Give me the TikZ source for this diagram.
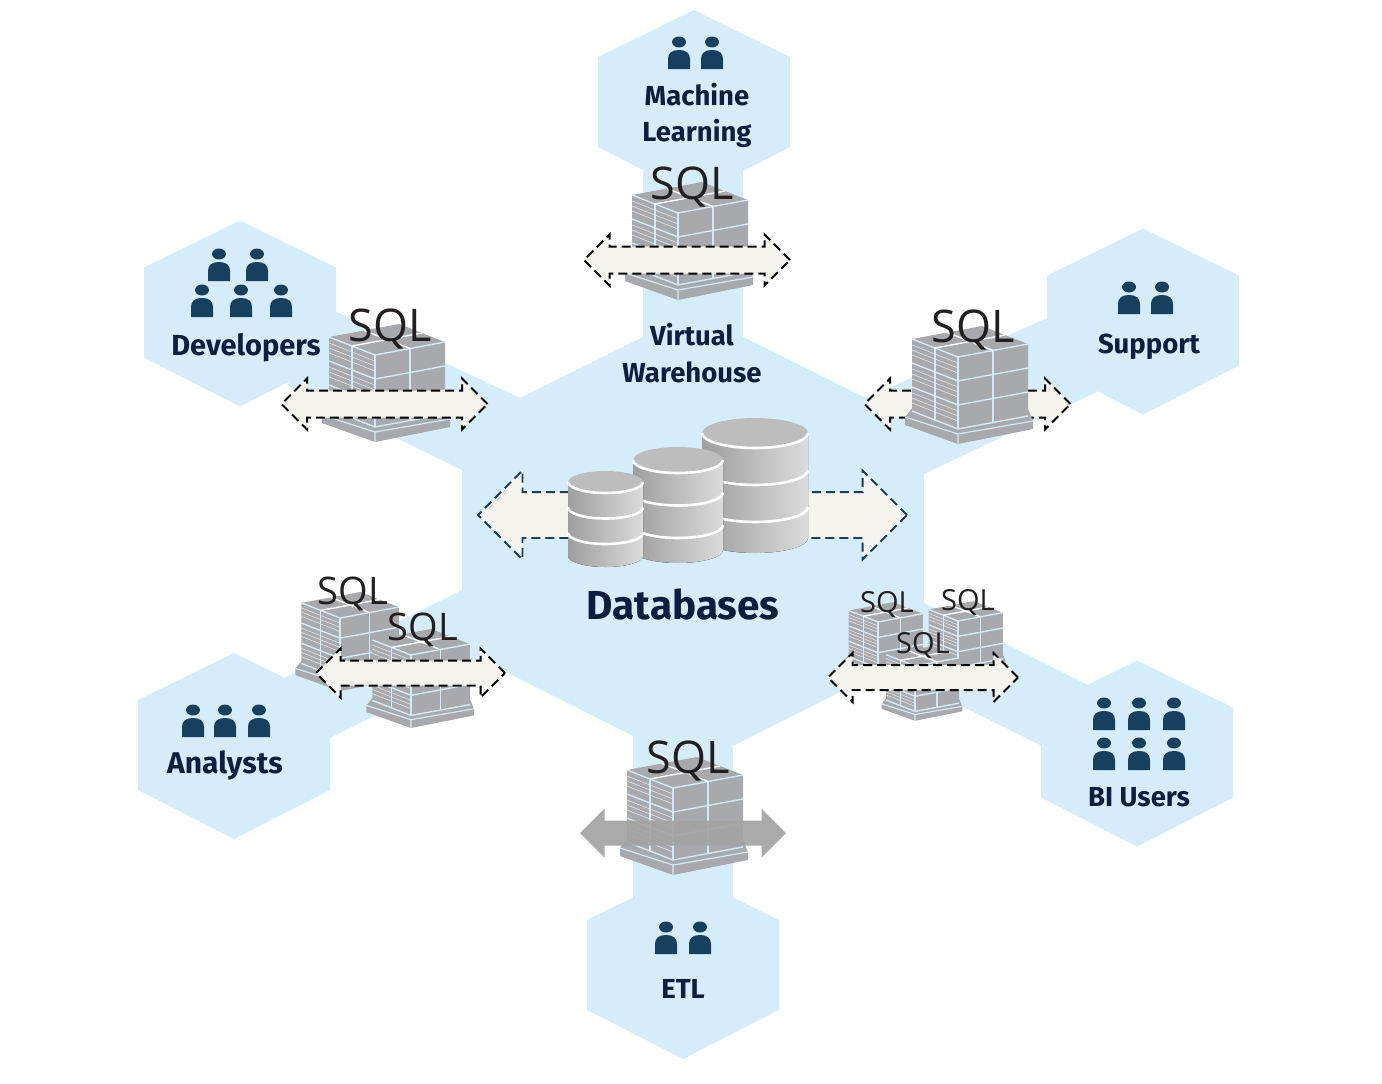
\documentclass[tikz,border=0pt]{standalone}
\usepackage{fontspec}
\setmainfont{Fira Sans}
\newfontfamily\sqlfont{Open Sans}
\usetikzlibrary{positioning}
\usetikzlibrary{shapes.arrows}
\definecolor{hexblue}{HTML}{D5EDFA}
\definecolor{navy}{HTML}{17405F}
\definecolor{inkblue}{HTML}{0B1F3F}
\definecolor{crate}{HTML}{A7A9AC}
\definecolor{crateline}{HTML}{D2EAF7}
\definecolor{sand}{HTML}{F5F3EE}
\definecolor{sqlink}{HTML}{231F20}
\tikzset{
  hexcell/.pic={\fill[hexblue] (0,-93) -- (96,-46) -- (96,44) -- (0,93) -- (-96,44) -- (-96,-46) -- cycle;},
  person/.pic={
    \fill[navy] (0,-27) ellipse[x radius=7,y radius=5.5];
    \fill[navy] (-11,0) -- (-11,-10) .. controls (-11,-16) and (-7,-19) .. (0,-19) .. controls (7,-19) and (11,-16) .. (11,-10) -- (11,0) -- cycle;},
  sqlstack/.pic={
    \fill[crate] (-53,60) -- (-45,50) -- (69,50) -- (75,64) -- (75,72) -- (0,87) -- (-53,68) -- cycle;
    \draw[crateline,line width=1.2pt] (-53,60) -- (0,77) -- (75,64) (0,77) -- (0,87);
    \fill[crate] (-46,-18) -- (24,-31) -- (70,-13) -- (70,59) -- (0,72) -- (-46,54) -- cycle;
    \foreach \t in {0,24,48}{
      \foreach \s in {6,11,16}
        \draw[white,opacity=.7,line width=.6pt] (-46,-18+\t+\s) -- (-23,-9+\t+\s) (-23,-9+\t+\s) -- (0,\t+\s);
      \draw[crateline,line width=1.4pt] (-46,-18+\t) -- (0,\t) -- (70,-13+\t);
    }
    \draw[crateline,line width=1.4pt] (-46,54) -- (0,72) -- (70,59);
    \draw[crateline,line width=1.4pt] (0,0) -- (0,72) (-23,-9) -- (-23,63) (35,-6.5) -- (35,65.5);
    \draw[white,line width=1.4pt] (-23,-9) -- (47,-22) (35,-6.5) -- (-11,-24.5);},
  lbl/.style={font=\bfseries\fontsize{27.5}{28}\selectfont,text=inkblue,inner sep=0pt},
  lblbig/.style={lbl,font=\bfseries\fontsize{29}{29}\selectfont},
  sqltxt/.style={font=\sqlfont\fontsize{45}{45}\selectfont,text=sqlink,inner sep=0pt},
  sqlmid/.style={sqltxt,font=\sqlfont\fontsize{38}{38}\selectfont},
  sqlsmall/.style={sqltxt,font=\sqlfont\fontsize{29}{29}\selectfont},
  flow/.style={double arrow,double arrow tip angle=90,double arrow head extend=12,minimum height=206pt,minimum width=49pt,
    inner xsep=0pt,inner ysep=12.5pt,fill=sand,draw=black,line width=2pt,dash pattern=on 9pt off 5pt},
  etlflow/.style={flow,draw=none,fill=black!36,opacity=.92,inner ysep=11.5pt,minimum width=47pt},
  dbflow/.style={flow,draw=navy,line width=1.8pt,minimum height=429pt,minimum width=87pt,double arrow head extend=21.5,inner ysep=22pt},
}
\newcommand{\dbcyl}[6]{% x, rim y, rx, ry, row height, bottom rim y
  \fill[left color=black!38,right color=black!14] (#1-#3,#2) -- (#1-#3,#6) arc[start angle=180,end angle=0,x radius=#3,y radius=#4] -- (#1+#3,#2) -- cycle;
  \fill[black!26] (#1,#2) ellipse[x radius=#3,y radius=#4];
  \foreach \k in {0,1,2}
    \draw[white,line width=2.6pt] (#1-#3,#2+\k*#5) arc[start angle=180,end angle=0,x radius=#3,y radius=#4];
}
\begin{document}
\begin{tikzpicture}[x=1pt,y=-1pt,on grid]
   \useasboundingbox (0,0) rectangle (1382,1084);
   % blue ground
   \fill[hexblue] (693,312) -- (924,427) -- (924,650) -- (693,766) -- (462,650) -- (462,427) -- cycle;
   \fill[hexblue] (337,312) -- (520,398) -- (600,500) -- (462,470) -- (287,385) -- cycle;
   \fill[hexblue] (1047,318) -- (866,398) -- (800,500) -- (924,474) -- (1097,392) -- (1100,320) -- cycle;
   \fill[hexblue] (462,590) -- (280,680) -- (300,753) -- (484,661) -- (600,600) -- cycle;
   \fill[hexblue] (924,603) -- (1090,686) -- (1041,745.5) -- (887,669) -- (800,600) -- cycle;
   \fill[hexblue] (643,150) rectangle (743,340);
   \fill[hexblue] (633,735) rectangle (733,900);
   \foreach \x/\y in {694/103,240/313.5,1143/321.5,234/746,1137/753.5,683/966}
     \pic at (\x,\y) {hexcell};
   % people
   \foreach \x/\y in {679/69,712/69,219/281,257/281,202/317,241/317,281/317,1129/314,1162/314,
                      193/737,225/737,259/737,1104/730,1139/730,1174/730,1104/770,1139/770,1174/770,666/954,700/954}
     \pic at (\x,\y) {person};
   % texts
   \node[lbl] (l_ml) at (697,95) {Machine};
   \node[lbl] (l_ml2) [below=38pt of l_ml] {Learning};
   \node[lblbig] (l_dev) at (246,348) {Developers};
   \node[lbl] (l_sup) at (1149,347) {Support};
   \node[lbl] (l_vw) at (692,335) {Virtual};
   \node[lbl] (l_vw2) [below=37pt of l_vw] {Warehouse};
   \node[lblbig,font=\bfseries\fontsize{30}{30}\selectfont] (l_ana) at (225,765) {Analysts};
   \node[lbl] (l_bi) at (1139,797) {BI Users};
   \node[lbl] (l_etl) at (683,989) {ETL};
   \node[lbl,font=\bfseries\fontsize{40.5}{40}\selectfont] (l_db) at (683,604) {Databases};
   % databases
   \node[dbflow] (f_db) at (692.5,515) {};
   \dbcyl{755}{433}{53}{15}{37}{538}
   \dbcyl{678}{460}{45}{13}{32.5}{550}
   \dbcyl{605.5}{482}{37.5}{11}{25.5}{556}
   % machine learning
   \pic at (678,213) {sqlstack};
   \node[sqltxt] (s_ml) at (692.5,187) {SQL};
   \node[flow] (f_ml) at (687,260) {};
   % developers
   \pic at (375,355) {sqlstack};
   \node[sqltxt] (s_dev) at (390,329) {SQL};
   \node[flow] (f_dev) at (384.5,404) {};
   % support
   \node[flow] (f_sup) at (967.5,404) {};
   \pic at (958,357) {sqlstack};
   \node[sqltxt] (s_sup) at (973,330) {SQL};
   % analysts
   \pic[scale=.84] at (340,618) {sqlstack};
   \pic[scale=.84] at (411,655) {sqlstack};
   \node[sqlmid] (s_ana) at (353,594) {SQL};
   \node[sqlmid] (s_ana2) at (423,630) {SQL};
   \node[flow,minimum height=189pt,minimum width=47pt,inner ysep=11.5pt] (f_ana) at (410.5,673) {};
   % bi users
   \pic[scale=.64] at (878,622) {sqlstack};
   \pic[scale=.64] at (958,621) {sqlstack};
   \pic[scale=.63] at (915,666) {sqlstack};
   \node[sqlsmall] (s_bi) at (887,604) {SQL};
   \node[sqlsmall] (s_bi2) at (968,602) {SQL};
   \node[sqlsmall] (s_bi3) at (923,645) {SQL};
   \node[flow,minimum height=190pt,minimum width=47pt,inner ysep=11.5pt] (f_bi) at (923,677.5) {};
   % etl
   \pic at (673,788) {sqlstack};
   \node[sqltxt] (s_etl) at (688,761) {SQL};
   \node[etlflow] (f_etl) at (683,833) {};
\end{tikzpicture}
\end{document}
